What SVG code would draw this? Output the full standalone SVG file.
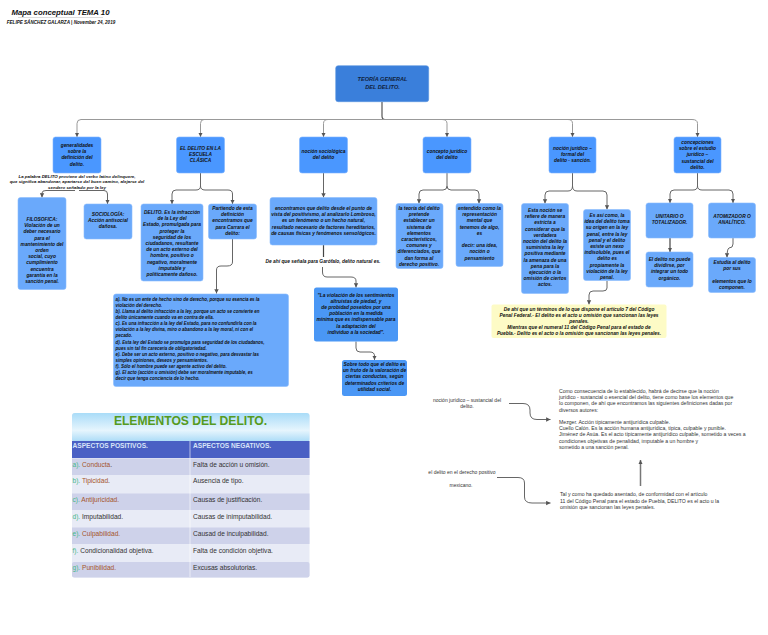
<svg xmlns="http://www.w3.org/2000/svg" width="768" height="635" viewBox="0 0 768 635">
<defs>
<marker id="a" viewBox="0 0 8 8" refX="7" refY="4" markerWidth="5" markerHeight="5" markerUnits="userSpaceOnUse" orient="auto"><path d="M0 0.5L7 4L0 7.5Z" fill="#555"/></marker>
<linearGradient id="sky" x1="0" y1="0" x2="0" y2="1"><stop offset="0" stop-color="#a9dcf8"/><stop offset="0.6" stop-color="#e6f5fd"/><stop offset="1" stop-color="#a8daf7"/></linearGradient>
</defs>
<style>
text{font-family:"Liberation Sans",Arial,sans-serif;fill:#111;text-anchor:middle}
.n{font-size:5.6px;font-style:italic;font-weight:700;fill:#10233f}
.s{font-size:4.85px;font-style:italic;font-weight:700}
.w{font-size:4.4px;font-style:italic;font-weight:700}
.p{font-size:4.45px;font-style:italic;font-weight:700;text-anchor:start}
.b1{fill:#4a97ff;stroke:#7db4ff;stroke-width:.6}
.b2{fill:#6aa9fb;stroke:#8cbcfd;stroke-width:.6}
.b3{fill:#4a97f5}
.c{fill:none;stroke:#999;stroke-width:1}
.d{fill:none;stroke:#666;stroke-width:1}
.t{font-size:5.15px;fill:#333;text-anchor:start}
.tc{font-size:5px;fill:#333}
.th{font-size:6.6px;font-weight:700;fill:#d8e4f8;text-anchor:start}
.tb{font-size:6.6px;fill:#333;text-anchor:start}
.o{fill:#a4552a}
.g{fill:#45b888}
</style>

<g id="title">
<text x="60.500" y="14.500" style="font-size:7.800px;font-weight:700;font-style:italic">Mapa conceptual TEMA 10</text>
<path d="M18 17.500H103" stroke="#bbb" stroke-width=".5"/>
<text x="61" y="23.700" style="font-size:4.600px;font-style:italic;font-weight:700">FELIPE SÁNCHEZ GALARZA  |  November 24, 2019</text>
</g>

<g id="connectors">
<path d="M382 102V116Q382 119.500 385 119.500" fill="none" stroke="#555" stroke-width="1.200"/>
<path class="c" d="M382 119.500H81Q77 119.500 77 123.500V137" marker-end="url(#a)"/>
<path class="c" d="M382 119.500H204Q200.500 119.500 200.500 123.500V137" marker-end="url(#a)"/>
<path class="c" d="M382 119.500H328Q323.500 119.500 323.500 123.500V137" marker-end="url(#a)"/>
<path class="c" d="M382 119.500H442Q447 119.500 447 123.500V137" marker-end="url(#a)"/>
<path class="c" d="M382 119.500H568Q572.500 119.500 572.500 123.500V137" marker-end="url(#a)"/>
<path class="c" d="M382 119.500H692Q697.500 119.500 697.500 123.500V137" marker-end="url(#a)"/>
<path class="d" d="M323.500 173V197.500" marker-end="url(#a)"/>
<path class="d" d="M200.500 173V186Q200.500 190 196 190H176Q172 190 172 194V204" marker-end="url(#a)"/>
<path class="d" d="M200.500 186Q200.500 190 205 190H228Q232.500 190 232.500 194V204" marker-end="url(#a)"/>
<path class="d" d="M447 173V186Q447 190 443 190H423Q419 190 419 194V203.500" marker-end="url(#a)"/>
<path class="d" d="M447 186Q447 190 451 190H475Q479 190 479 194V203.500" marker-end="url(#a)"/>
<path class="d" d="M572.500 173V186Q572.500 191 568 191H549Q545 191 545 195V203.500" marker-end="url(#a)"/>
<path class="d" d="M572.500 186Q572.500 191 577 191H603Q607 191 607 195V209.500" marker-end="url(#a)"/>
<path class="d" d="M697.500 173V186Q697.500 190 693 190H674Q670 190 670 194V203" marker-end="url(#a)"/>
<path class="d" d="M697.500 186Q697.500 190 702 190H729Q733 190 733 194V203" marker-end="url(#a)"/>
<path class="d" d="M75 190.500H46Q42 190.500 42 193V197.500" marker-end="url(#a)"/>
<path class="d" d="M79 190.500H104Q107.500 190.500 107.500 194V204" marker-end="url(#a)"/>
<path class="d" d="M232.500 238.500V262Q232.500 266 227 266H221Q216.500 266 216.500 270V293.500" marker-end="url(#a)"/>
<path d="M323.500 245V257" fill="none" stroke="#444" stroke-width="1.200"/>
<path class="d" d="M322.500 267V272Q322.500 277 327 277H351Q356 277 356 281V287.500" marker-end="url(#a)"/>
<path class="d" d="M356 341.500V348Q356 352 360 352H370Q374.500 352 374.500 356V360" marker-end="url(#a)"/>
<path class="d" d="M607 281V288Q607 291 603 291H593Q589 291 589 295V304.500" marker-end="url(#a)"/>
<path d="M670 238V252" fill="none" stroke="#444" stroke-width="1.200" marker-end="url(#a)"/>
<path class="d" d="M733 238V244Q733 248 729 248Q727 249 727 257.500" marker-end="url(#a)"/>
<path class="d" d="M509 403.500H523Q530 403.500 530 410V413Q530 419.500 537 419.500H550.500" marker-end="url(#a)"/>
<path class="d" d="M497 477.500H518Q524.500 477.500 524.500 483V497Q524.500 503 532 503H550.500" marker-end="url(#a)"/>
<path d="M640.500 486V460" fill="none" stroke="#777" stroke-width="1.500" marker-end="url(#a)"/>
</g>

<g id="root"><rect x="335.700" y="65.700" width="93" height="36" rx="2.500" fill="#3a7fdb" stroke="#5a96e0" stroke-width=".6"/>
<text x="382.500" y="81" class="n">TEORÍA GENERAL</text><text x="382.500" y="88.500" class="n">DEL DELITO.</text></g>

<g id="n-generalidades"><rect x="53" y="137" width="48" height="36" rx="2.500" class="b1"/>
<text class="s" y="147"><tspan x="77">generalidades</tspan><tspan x="77" dy="6.200">sobre la</tspan><tspan x="77" dy="6.200">definición del</tspan><tspan x="77" dy="6.200">delito.</tspan></text></g>
<g id="n-clasica"><rect x="176.500" y="137" width="48" height="36" rx="2.500" class="b1"/>
<text class="s" y="150"><tspan x="200.500">EL DELITO EN LA</tspan><tspan x="200.500" dy="6.200">ESCUELA</tspan><tspan x="200.500" dy="6.200">CLÁSICA</tspan></text></g>
<g id="n-sociologica"><rect x="299.500" y="137" width="48" height="36" rx="2.500" class="b1"/>
<text class="s" y="153"><tspan x="323.500">noción sociológica</tspan><tspan x="323.500" dy="6.200">del delito</tspan></text></g>
<g id="n-concepto"><rect x="423" y="137" width="48" height="36" rx="2.500" class="b1"/>
<text class="s" y="153"><tspan x="447">concepto jurídico</tspan><tspan x="447" dy="6.200">del delito</tspan></text></g>
<g id="n-formal"><rect x="549" y="137" width="47" height="36" rx="2.500" class="b1"/>
<text class="s" y="150"><tspan x="572.500">noción jurídico –</tspan><tspan x="572.500" dy="6.200">formal del</tspan><tspan x="572.500" dy="6.200">delito - sanción.</tspan></text></g>
<g id="n-concepciones"><rect x="674" y="137" width="47" height="36" rx="2.500" class="b1"/>
<text class="s" y="144"><tspan x="697.500">concepciones</tspan><tspan x="697.500" dy="6.200">sobre el estudio</tspan><tspan x="697.500" dy="6.200">jurídico –</tspan><tspan x="697.500" dy="6.200">sustancial del</tspan><tspan x="697.500" dy="6.200">delito.</tspan></text></g>

<g id="l-palabra"><text class="w" y="177.500"><tspan x="77">La palabra DELITO proviene del verbo latino delinquere,</tspan><tspan x="77" dy="5.800">que significa abandonar, apartarse del buen camino, alejarse del</tspan><tspan x="77" dy="5.800">sendero señalado por la ley</tspan></text></g>

<g id="n-filosofica"><rect x="18" y="197.500" width="48" height="92" rx="2.500" class="b2"/>
<text class="s" y="221"><tspan x="42">FILOSOFICA:</tspan><tspan x="42" dy="6.200">Violación de un</tspan><tspan x="42" dy="6.200">deber necesario</tspan><tspan x="42" dy="6.200">para el</tspan><tspan x="42" dy="6.200">mantenimiento del</tspan><tspan x="42" dy="6.200">orden</tspan><tspan x="42" dy="6.200">social, cuyo</tspan><tspan x="42" dy="6.200">cumplimiento</tspan><tspan x="42" dy="6.200">encuentra</tspan><tspan x="42" dy="6.200">garantía en la</tspan><tspan x="42" dy="6.200">sanción penal.</tspan></text></g>
<g id="n-sociologia"><rect x="84" y="204" width="48" height="35" rx="2.500" class="b2"/>
<text class="s" y="216"><tspan x="108">SOCIOLOGÍA:</tspan><tspan x="108" dy="6.200">Acción antisocial</tspan><tspan x="108" dy="6.200">dañosa.</tspan></text></g>
<g id="n-delito"><rect x="141" y="204" width="62" height="77" rx="2.500" class="b2"/>
<text class="s" y="214"><tspan x="172">DELITO. Es la infracción</tspan><tspan x="172" dy="6.200">de la Ley del</tspan><tspan x="172" dy="6.200">Estado, promulgada para</tspan><tspan x="172" dy="6.200">proteger la</tspan><tspan x="172" dy="6.200">seguridad de los</tspan><tspan x="172" dy="6.200">ciudadanos, resultante</tspan><tspan x="172" dy="6.200">de un acto externo del</tspan><tspan x="172" dy="6.200">hombre, positivo o</tspan><tspan x="172" dy="6.200">negativo, moralmente</tspan><tspan x="172" dy="6.200">imputable y</tspan><tspan x="172" dy="6.200">políticamente dañoso.</tspan></text></g>
<g id="n-partiendo"><rect x="208.500" y="204" width="48" height="35" rx="2.500" class="b2"/>
<text class="s" y="210"><tspan x="232.500">Partiendo de esta</tspan><tspan x="232.500" dy="6.200">definición</tspan><tspan x="232.500" dy="6.200">encontramos que</tspan><tspan x="232.500" dy="6.200">para Carrara el</tspan><tspan x="232.500" dy="6.200">delito:</tspan></text></g>
<g id="n-lista"><rect x="113.500" y="294" width="175" height="92.500" rx="2.500" class="b2"/>
<text class="p" y="300.500"><tspan x="115.500">a). No es un ente de hecho sino de derecho, porque su esencia es la</tspan><tspan x="115.500" dy="6.150">violación del derecho.</tspan><tspan x="115.500" dy="6.150">b). Llama al delito infracción a la ley, porque un acto se convierte en</tspan><tspan x="115.500" dy="6.150">delito únicamente cuando va en contra de ella.</tspan><tspan x="115.500" dy="6.150">c). Es una infracción a la ley del Estado, para no confundirla con la</tspan><tspan x="115.500" dy="6.150">violación a la ley divina, miro o abandono a la ley moral, ni con el</tspan><tspan x="115.500" dy="6.150">pecado.</tspan><tspan x="115.500" dy="6.150">d). Esta ley del Estado se promulga para seguridad de los ciudadanos,</tspan><tspan x="115.500" dy="6.150">pues sin tal fin carecería de obligatoriedad.</tspan><tspan x="115.500" dy="6.150">e). Debe ser un acto externo, positivo o negativo, para desvastar las</tspan><tspan x="115.500" dy="6.150">simples opiniones, deseos y pensamientos.</tspan><tspan x="115.500" dy="6.150">f). Sólo el hombre puede ser agente activo del delito.</tspan><tspan x="115.500" dy="6.150">g). El acto (acción u omisión) debe ser moralmente imputable, es</tspan><tspan x="115.500" dy="6.150">decir que tenga conciencia de lo hecho.</tspan></text></g>
<g id="n-encontramos"><rect x="270" y="197.500" width="107" height="47.500" rx="2.500" class="b2"/>
<text class="s" y="210"><tspan x="323.500">encontramos que delito desde el punto de</tspan><tspan x="323.500" dy="6.200">vista del positivismo, al analizarlo Lombroso,</tspan><tspan x="323.500" dy="6.200">es un fenómeno o un hecho natural,</tspan><tspan x="323.500" dy="6.200">resultado necesario de factores hereditarios,</tspan><tspan x="323.500" dy="6.200">de causas físicas y fenómenos sensológicos.</tspan></text></g>
<g id="l-garofalo"><text class="s" x="323" y="263">De ahí que señala para Garófalo, delito natural es.</text></g>
<g id="n-violacion"><rect x="314" y="287.500" width="84" height="54" rx="2.500" class="b3"/>
<text class="s" y="296.500"><tspan x="356">"La violación de los sentimientos</tspan><tspan x="356" dy="6.200">altruistas de piedad, y</tspan><tspan x="356" dy="6.200">de probidad poseídos por una</tspan><tspan x="356" dy="6.200">población en la medida</tspan><tspan x="356" dy="6.200">mínima que es indispensable para</tspan><tspan x="356" dy="6.200">la adaptación del</tspan><tspan x="356" dy="6.200">individuo a la sociedad".</tspan></text></g>
<g id="n-sobre"><rect x="342" y="360" width="65" height="36" rx="2.500" class="b3"/>
<text class="s" y="366"><tspan x="374.500">Sobre todo que el delito es</tspan><tspan x="374.500" dy="6.200">un fruto de la valoración de</tspan><tspan x="374.500" dy="6.200">ciertas conductas, según</tspan><tspan x="374.500" dy="6.200">determinados criterios de</tspan><tspan x="374.500" dy="6.200">utilidad social.</tspan></text></g>
<g id="n-teoria"><rect x="396" y="203.500" width="47" height="65" rx="2.500" class="b2"/>
<text class="s" y="210"><tspan x="419">la teoría del delito</tspan><tspan x="419" dy="6.200">pretende</tspan><tspan x="419" dy="6.200">establecer un</tspan><tspan x="419" dy="6.200">sistema de</tspan><tspan x="419" dy="6.200">elementos</tspan><tspan x="419" dy="6.200">característicos,</tspan><tspan x="419" dy="6.200">comunes y</tspan><tspan x="419" dy="6.200">diferenciados, que</tspan><tspan x="419" dy="6.200">dan forma al</tspan><tspan x="419" dy="6.200">derecho positivo.</tspan></text></g>
<g id="n-entendido"><rect x="456" y="203.500" width="47" height="63" rx="2.500" class="b2"/>
<text class="s" y="210"><tspan x="479.500">entendido como la</tspan><tspan x="479.500" dy="6.200">representación</tspan><tspan x="479.500" dy="6.200">mental que</tspan><tspan x="479.500" dy="6.200">tenemos de algo,</tspan><tspan x="479.500" dy="6.200">es</tspan><tspan x="479.500" dy="12.400">decir: una idea,</tspan><tspan x="479.500" dy="6.200">noción o</tspan><tspan x="479.500" dy="6.200">pensamiento</tspan></text></g>
<g id="n-esta"><rect x="521.500" y="203.500" width="47" height="90" rx="2.500" class="b2"/>
<text class="s" y="212"><tspan x="545">Esta noción se</tspan><tspan x="545" dy="6.200">refiere de manera</tspan><tspan x="545" dy="6.200">estricta a</tspan><tspan x="545" dy="6.200">considerar que la</tspan><tspan x="545" dy="6.200">verdadera</tspan><tspan x="545" dy="6.200">noción del delito la</tspan><tspan x="545" dy="6.200">suministra la ley</tspan><tspan x="545" dy="6.200">positiva mediante</tspan><tspan x="545" dy="6.200">la amenaza de una</tspan><tspan x="545" dy="6.200">pena para la</tspan><tspan x="545" dy="6.200">ejecución o la</tspan><tspan x="545" dy="6.200">omisión de ciertos</tspan><tspan x="545" dy="6.200">actos.</tspan></text></g>
<g id="n-asi"><rect x="583.500" y="209.500" width="47" height="71" rx="2.500" class="b2"/>
<text class="s" y="217"><tspan x="607">Es así como, la</tspan><tspan x="607" dy="6.200">idea del delito toma</tspan><tspan x="607" dy="6.200">su origen en la ley</tspan><tspan x="607" dy="6.200">penal, entre la ley</tspan><tspan x="607" dy="6.200">penal y el delito</tspan><tspan x="607" dy="6.200">existe un nexo</tspan><tspan x="607" dy="6.200">indisoluble, pues el</tspan><tspan x="607" dy="6.200">delito es</tspan><tspan x="607" dy="6.200">propiamente la</tspan><tspan x="607" dy="6.200">violación de la ley</tspan><tspan x="607" dy="6.200">penal.</tspan></text></g>
<g id="n-unitario"><rect x="646" y="203" width="47" height="35" rx="2.500" class="b2"/>
<text class="s" y="218"><tspan x="669.500">UNITARIO O</tspan><tspan x="669.500" dy="6.200">TOTALIZADOR.</tspan></text></g>
<g id="n-atomizador"><rect x="708.500" y="203" width="47" height="35" rx="2.500" class="b2"/>
<text class="s" y="218"><tspan x="732">ATOMIZADOR O</tspan><tspan x="732" dy="6.200">ANALÍTICO.</tspan></text></g>
<g id="n-divisivo"><rect x="646" y="252" width="47" height="35" rx="2.500" class="b2"/>
<text class="s" y="261"><tspan x="669.500">El delito no puede</tspan><tspan x="669.500" dy="6.200">dividirse, por</tspan><tspan x="669.500" dy="6.200">integrar un todo</tspan><tspan x="669.500" dy="6.200">orgánico.</tspan></text></g>
<g id="n-estudia"><rect x="708.500" y="257.500" width="47" height="35" rx="2.500" class="b2"/>
<text class="s" y="264"><tspan x="732">Estudia al delito</tspan><tspan x="732" dy="6.200">por sus</tspan><tspan x="732" dy="12.400">elementos que lo</tspan><tspan x="732" dy="6.200">componen.</tspan></text></g>
<g id="n-articulo"><rect x="491.500" y="304.500" width="175" height="33.500" rx="2" fill="#fdfbc6"/>
<text class="s" y="310.500"><tspan x="579">De ahí que un términos de lo que dispone el artículo 7 del Código</tspan><tspan x="579" dy="6.200">Penal Federal.- El delito es el acto u omisión que sancionan las leyes</tspan><tspan x="579" dy="6.200">penales.</tspan><tspan x="579" dy="6.200">Mientras que el numeral 11 del Código Penal para el estado de</tspan><tspan x="579" dy="6.200">Puebla.- Delito es el acto o la omisión que sancionan las leyes penales.</tspan></text></g>

<g id="t-sustancial"><text class="tc" y="401.500"><tspan x="467">noción jurídico – sustancial del</tspan><tspan x="467" dy="6.500">delito.</tspan></text></g>
<g id="t-positivo"><text class="tc" y="474"><tspan x="462">el delito en el derecho positivo</tspan><tspan x="461" dy="12.500">mexicano.</tspan></text></g>
<g id="t-consecuencia"><text class="t" y="393"><tspan x="559">Como consecuencia de lo establecido, habrá de decirse que la noción</tspan><tspan x="559" dy="6.200">jurídico - sustancial o esencial del delito, tiene como base los elementos que</tspan><tspan x="559" dy="6.200">lo componen, de ahí que encontramos las siguientes definiciones dadas por</tspan><tspan x="559" dy="6.200">diversos autores:</tspan><tspan x="559" dy="12.400">Mezger. Acción típicamente antijurídica culpable.</tspan><tspan x="559" dy="6.200">Cuello Calón. Es la acción humana antijurídica, típica, culpable y punible.</tspan><tspan x="559" dy="6.200">Jiménez de Asúa. Es el acto típicamente antijurídico culpable, sometido a veces a</tspan><tspan x="559" dy="6.200">condiciones objetivas de penalidad, imputable a un hombre y</tspan><tspan x="559" dy="6.200">sometido a una sanción penal.</tspan></text></g>
<g id="t-tal"><text class="t" y="496"><tspan x="560">Tal y como ha quedado asentado, de conformidad con el artículo</tspan><tspan x="560" dy="6.500">11 del Código Penal para el estado de Puebla, DELITO es el acto u la</tspan><tspan x="560" dy="6.500">omisión que sancionan las leyes penales.</tspan></text></g>

<g id="tabla">
<rect x="72" y="413" width="237.500" height="164.500" rx="3" fill="#e8ebf6"/>
<rect x="72" y="413" width="237.500" height="29" rx="3" fill="url(#sky)"/>
<text x="190.500" y="424.500" style="font-size:12.100px;font-weight:700;fill:#559a20">ELEMENTOS DEL DELITO.</text>
<rect x="72" y="441" width="237.500" height="17" fill="#4a60c4"/>
<rect x="72" y="458.500" width="237.500" height="16.500" fill="#ced2ea"/>
<rect x="72" y="493.500" width="237.500" height="16.500" fill="#ced2ea"/>
<rect x="72" y="527.500" width="237.500" height="16.500" fill="#ced2ea"/>
<rect x="72" y="562" width="237.500" height="15.500" rx="2" fill="#ced2ea"/>
<path d="M190 441V577" stroke="#fff" stroke-width=".6"/>
<text x="72.500" y="448" class="th">ASPECTOS POSITIVOS.</text>
<text x="193" y="448" class="th">ASPECTOS NEGATIVOS.</text>
<text class="tb" x="72.500" y="466.500"><tspan class="g">a). </tspan><tspan class="o">Conducta</tspan>.</text>
<text class="tb" x="72.500" y="483"><tspan class="g">b). </tspan><tspan class="o">Tipicidad</tspan>.</text>
<text class="tb" x="72.500" y="501.500"><tspan class="g">c). </tspan><tspan class="o">Antijuricidad.</tspan></text>
<text class="tb" x="72.500" y="518.500"><tspan class="g">d). </tspan>Imputabilidad.</text>
<text class="tb" x="72.500" y="535.500"><tspan class="g">e). </tspan><tspan class="o">Culpabilidad.</tspan></text>
<text class="tb" x="72.500" y="552.500"><tspan class="g">f). </tspan>Condicionalidad objetiva.</text>
<text class="tb" x="72.500" y="569.500"><tspan class="g">g). </tspan><tspan class="o">Punibilidad.</tspan></text>
<text class="tb" x="193" y="466.500">Falta de acción u omisión.</text>
<text class="tb" x="193" y="483">Ausencia de tipo.</text>
<text class="tb" x="193" y="501.500">Causas de justificación.</text>
<text class="tb" x="193" y="518.500">Causas de inimputabilidad.</text>
<text class="tb" x="193" y="535.500">Causad de inculpabilidad.</text>
<text class="tb" x="193" y="552.500">Falta de condición objetiva.</text>
<text class="tb" x="193" y="569.500">Excusas absolutorias.</text>
</g>
</svg>
